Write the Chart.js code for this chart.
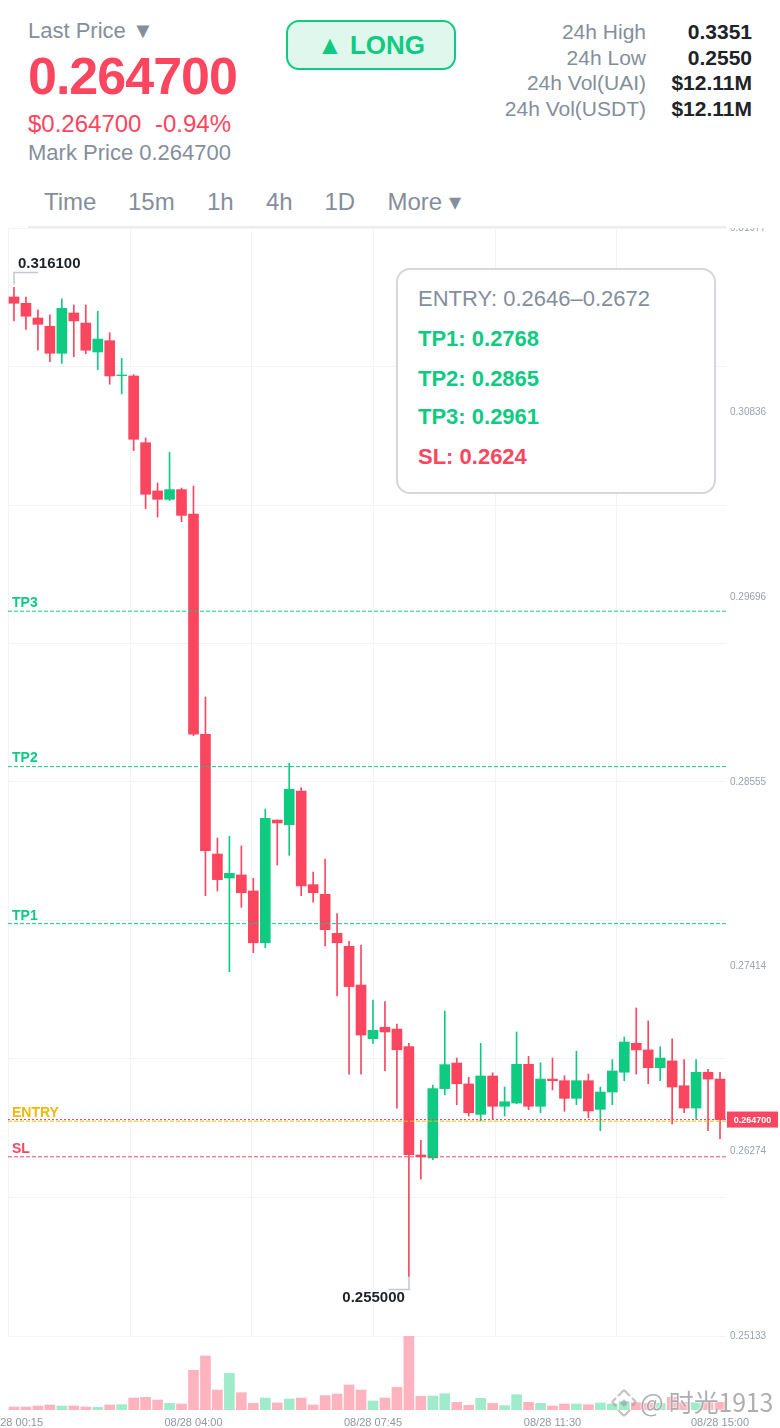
<!DOCTYPE html>
<html lang="en">
<head>
<meta charset="utf-8">
<title>UAI/USDT</title>
<script src="https://cdn.jsdelivr.net/npm/chart.js@4"></script>
<style>
  html,body{margin:0;padding:0;background:#fff;}
  body{width:780px;height:1428px;position:relative;overflow:hidden;font-family:"Liberation Sans",Arial,sans-serif;}
  .t{position:absolute;white-space:nowrap;line-height:1;}
  .gray{color:#848E9C;} .red{color:#FB4660;} .green{color:#0ECB81;} .dark{color:#1E2329;}
  .r{text-align:right;}
  #sep{position:absolute;left:28px;top:226px;width:698px;height:2px;background:#EAECEF;}
  #long{position:absolute;left:286px;top:20px;width:166px;height:46px;border:2px solid #0ECB81;border-radius:13px;background:#E0F7EE;color:#0ECB81;font-weight:bold;font-size:26px;display:flex;align-items:center;justify-content:center;}
  #chartWrap{position:absolute;left:0;top:228px;width:780px;height:1200px;}
  #box{position:absolute;left:396px;top:268px;width:316px;height:222px;border:2px solid #D5D7DC;border-radius:14px;background:#fff;}
  #wm{position:absolute;left:640px;top:1385px;font-family:"Noto Sans CJK SC",sans-serif;font-size:25px;line-height:32px;color:rgba(125,125,125,.62);text-shadow:0 0 2px #fff,0 0 2px #fff;white-space:nowrap;letter-spacing:-.2px;}
  #wmLogo{position:absolute;left:610px;top:1388px;}
</style>
</head>
<body>
<div class="t gray" style="left:28px;top:20px;font-size:22px;">Last Price ▼</div>
<div class="t red" style="left:28px;top:50px;font-size:52px;font-weight:bold;letter-spacing:-1px;">0.264700</div>
<div class="t red" style="left:28px;top:112px;font-size:24px;">$0.264700</div>
<div class="t red" style="left:155px;top:112px;font-size:24px;">-0.94%</div>
<div class="t gray" style="left:28px;top:142px;font-size:22px;">Mark Price 0.264700</div>
<div id="long">▲ LONG</div>

<div class="t gray r" style="right:134px;top:21px;font-size:21px;">24h High</div>
<div class="t dark r" style="right:28px;top:21px;font-size:21px;font-weight:bold;">0.3351</div>
<div class="t gray r" style="right:134px;top:47px;font-size:21px;">24h Low</div>
<div class="t dark r" style="right:28px;top:47px;font-size:21px;font-weight:bold;">0.2550</div>
<div class="t gray r" style="right:134px;top:72px;font-size:21px;">24h Vol(UAI)</div>
<div class="t dark r" style="right:28px;top:72px;font-size:21px;font-weight:bold;">$12.11M</div>
<div class="t gray r" style="right:134px;top:98px;font-size:21px;">24h Vol(USDT)</div>
<div class="t dark r" style="right:28px;top:98px;font-size:21px;font-weight:bold;">$12.11M</div>

<div class="t gray" style="left:44px;top:190px;font-size:24px;">Time</div>
<div class="t gray" style="left:128px;top:190px;font-size:24px;">15m</div>
<div class="t gray" style="left:207px;top:190px;font-size:24px;">1h</div>
<div class="t gray" style="left:266px;top:190px;font-size:24px;">4h</div>
<div class="t gray" style="left:324.5px;top:190px;font-size:24px;">1D</div>
<div class="t gray" style="left:387.5px;top:190px;font-size:24px;">More ▾</div>
<div id="sep"></div>

<div id="chartWrap"><canvas id="chart" width="780" height="1200" style="width:780px;height:1200px;display:block;"></canvas></div>

<div id="box"></div>
<div class="t gray" style="left:418px;top:288px;font-size:22px;">ENTRY: 0.2646–0.2672</div>
<div class="t green" style="left:418px;top:328px;font-size:22px;font-weight:bold;">TP1: 0.2768</div>
<div class="t green" style="left:418px;top:368px;font-size:22px;font-weight:bold;">TP2: 0.2865</div>
<div class="t green" style="left:418px;top:406px;font-size:22px;font-weight:bold;">TP3: 0.2961</div>
<div class="t red" style="left:418px;top:446px;font-size:22px;font-weight:bold;">SL: 0.2624</div>

<svg id="wmLogo" width="28" height="30" viewBox="0 0 28 30">
  <g fill="none" stroke="rgba(150,150,150,.55)" stroke-width="2.4">
    <path d="M14 2 L20 8 M14 2 L8 8"/>
    <path d="M2 14 L6 10 M2 14 L6 18"/>
    <path d="M26 14 L22 10 M26 14 L22 18"/>
    <path d="M14 28 L20 22 M14 28 L8 22"/>
  </g>
  <path d="M14 11 L18 15 L14 19 L10 15 Z" fill="rgba(150,150,150,.55)"/>
</svg>
<div id="wm">@ 时光1913</div>

<script>
const UP = '#0ECB81', DOWN = '#FB4660', UP_VOL = '#A0EBCB', DOWN_VOL = '#FFB3BF';

const opens = [.31551,.31512,.31421,.3137,.31203,.31452,.3139,.31211,.31281,.31065,
  .31063,.30651,.30353,.30301,.30361,.3021,.2885,.2811,.27962,.27981,
  .27882,.27562,.2832,.28291,.28499,.27921,.27861,.2762,.2754,.27301,
  .26969,.2704,.27029,.2692,.26251,.26233,.26661,.26819,.2669,.26502,
  .26739,.26552,.26572,.26811,.26552,.2672,.2671,.26601,.2671,.26533,
  .2664,.26762,.26941,.269,.2679,.26832,.26679,.26541,.26762,.2672];
const closes = [.31512,.31432,.31382,.31203,.31481,.31403,.31222,.31291,.31063,.31069,
  .30672,.30332,.30301,.30361,.30202,.2885,.28131,.27952,.27991,.27871,
  .27562,.28331,.28302,.2851,.27913,.27871,.27643,.27562,.27291,.26992,
  .27021,.27011,.26901,.26253,.26241,.26661,.26809,.26691,.26512,.26739,
  .26552,.2658,.26811,.26552,.2672,.2671,.26601,.2671,.26523,.2664,
  .2677,.26949,.269,.2679,.2685,.26671,.26541,.26762,.2672,.2647];
const highs = [.3161,.31551,.31471,.3144,.3154,.31501,.31501,.31463,.3133,.31172,
  .31071,.3068,.30402,.30592,.30371,.30383,.2908,.28209,.2822,.2816,
  .2796,.28388,.2832,.28671,.2852,.27999,.28079,.27742,.27571,.27548,
  .27208,.27198,.2706,.26941,.26342,.26682,.27141,.2685,.26731,.26941,
  .26759,.26671,.27011,.26861,.26821,.2685,.26741,.26892,.26751,.26671,
  .2684,.2698,.27159,.27079,.2692,.26969,.2684,.2684,.2678,.26762];
const lows = [.31403,.31351,.31222,.31151,.31141,.31182,.31201,.31102,.31012,.30952,
  .30602,.30243,.30192,.30293,.30163,.28841,.27853,.27882,.27383,.27781,
  .27501,.27532,.28042,.28102,.27853,.27812,.27542,.27233,.26751,.26751,
  .26941,.26772,.26541,.255,.26101,.26222,.26622,.26562,.26492,.26461,
  .26472,.26492,.26568,.26531,.26512,.26653,.26521,.26562,.26481,.26401,
  .26562,.2671,.26751,.26691,.2671,.26443,.26512,.26472,.26401,.26352];
const volumes = [4,4,5.4,6.8,5.4,5.4,4,3.6,6.8,7.2,
  16.2,17.1,13.5,9,8.1,53.6,73,27,49.5,23.4,
  9,16.2,9.5,14.9,16.2,6.8,19.4,21.6,33.8,27,
  12.2,16.2,30.6,100,18.5,18.9,22,10.4,6.3,15.8,
  9,5.9,20.7,10.4,9,5.4,8.1,8.1,7.2,9.5,
  8.1,11.3,9.9,9,9,17.1,10.4,9.9,11.7,10.4];

const timeTickIndex = [0,15,30,45,59];
const timeTickLabels = ['08/28 00:15','08/28 04:00','08/28 07:45','08/28 11:30','08/28 15:00'];
const priceTickLabels = [0.25133,0.26274,0.27414,0.28555,0.29696,0.30836,0.31977];
const priceGridLines = [0.25133,0.25989,0.26844,0.277,0.28555,0.29411,0.30266,0.31122,0.31977];
const timeGridLines = [-0.5,9.67,19.83,30,40.17,50.33];

const levelNames = ['TP3','TP2','TP1','ENTRY','SL'];
const levelPrices = [0.2961,0.2865,0.2768,0.2646,0.2624];
const levelColors = ['#0ECB81','#0ECB81','#0ECB81','#F0B90B','#FB4660'];
const lastPrice = 0.2647;
const lastPriceText = '0.264700';
const highText = '0.316100';
const lowText = '0.255000';

const idx = opens.map((_, i) => i);
const isUp = i => closes[i] >= opens[i];
const XMIN = -0.5, XMAX = 59.5;
const GRID = '#F3F4F6';

const levelDatasets = levelPrices.map((p, i) => ({
  type: 'line', yAxisID: 'y', order: 1,
  data: [{x: XMIN, y: p}, {x: XMAX, y: p}],
  borderColor: levelColors[i], borderWidth: 1, borderDash: [4, 2],
  pointRadius: 0, fill: false
}));
levelDatasets.push({
  type: 'line', yAxisID: 'y', order: 1,
  data: [{x: XMIN, y: lastPrice}, {x: XMAX, y: lastPrice}],
  borderColor: '#E8455A', borderWidth: 1, borderDash: [2, 2],
  pointRadius: 0, fill: false
});

const overlay = {
  id: 'overlay',
  beforeDatasetsDraw(c) {
    const ctx = c.ctx, x = c.scales.x, y = c.scales.y;
    ctx.save();
    ctx.strokeStyle = GRID; ctx.lineWidth = 1;
    timeGridLines.forEach(v => {
      const px = Math.round(x.getPixelForValue(v)) + 0.5;
      ctx.beginPath(); ctx.moveTo(px, y.top); ctx.lineTo(px, y.bottom); ctx.stroke();
    });
    ctx.restore();
  },
  afterDatasetsDraw(c) {
    const ctx = c.ctx, x = c.scales.x, y = c.scales.y;
    ctx.save();
    // level names
    ctx.textBaseline = 'middle'; ctx.textAlign = 'left';
    ctx.font = 'bold 14px "Liberation Sans"';
    levelNames.forEach((n, i) => {
      ctx.fillStyle = levelColors[i];
      ctx.fillText(n, x.left + 4, y.getPixelForValue(levelPrices[i]) - 8);
    });
    // highest / lowest leaders
    const iHi = highs.indexOf(Math.max(...highs)), iLo = lows.indexOf(Math.min(...lows));
    const hx = x.getPixelForValue(iHi), hy = y.getPixelForValue(highs[iHi]);
    const lx = x.getPixelForValue(iLo), ly = y.getPixelForValue(lows[iLo]);
    ctx.strokeStyle = '#C4C8CE'; ctx.lineWidth = 1.5;
    ctx.beginPath();
    ctx.moveTo(Math.round(hx), hy - 3); ctx.lineTo(Math.round(hx), hy - 15); ctx.lineTo(hx + 24, hy - 15);
    ctx.stroke();
    ctx.beginPath();
    ctx.moveTo(Math.round(lx), ly); ctx.lineTo(Math.round(lx), ly + 13); ctx.lineTo(lx - 20, ly + 13);
    ctx.stroke();
    ctx.fillStyle = '#1E2329'; ctx.font = 'bold 15px "Liberation Sans"';
    ctx.textAlign = 'left'; ctx.fillText(highText, hx + 4, hy - 24);
    ctx.textAlign = 'right'; ctx.fillText(lowText, lx - 4, ly + 21);
    // last price tag
    const ty = y.getPixelForValue(lastPrice);
    ctx.fillStyle = DOWN;
    ctx.fillRect(x.right + 1, ty - 8, 51, 16);
    ctx.fillStyle = '#fff'; ctx.font = 'bold 9px "Liberation Sans"';
    ctx.textAlign = 'center';
    ctx.fillText(lastPriceText, x.right + 26.5, ty + 0.5);
    ctx.restore();
  }
};

new Chart(document.getElementById('chart'), {
  type: 'bar',
  data: {
    datasets: [
      ...levelDatasets,
      {
        label: 'body', yAxisID: 'y', xAxisID: 'x', order: 2, grouped: false, barThickness: 10,
        data: idx.map(i => ({x: i, y: [opens[i], closes[i]]})),
        backgroundColor: idx.map(i => isUp(i) ? UP : DOWN), borderSkipped: false
      },
      {
        label: 'wick', yAxisID: 'y', xAxisID: 'x', order: 3, grouped: false, barThickness: 1,
        data: idx.map(i => ({x: i, y: [lows[i], highs[i]]})),
        backgroundColor: idx.map(i => isUp(i) ? UP : DOWN), borderSkipped: false
      },
      {
        label: 'volume', yAxisID: 'vol', xAxisID: 'x', order: 4, grouped: false, barThickness: 10,
        data: idx.map(i => ({x: i, y: volumes[i]})),
        backgroundColor: idx.map(i => isUp(i) ? UP_VOL : DOWN_VOL)
      }
    ]
  },
  options: {
    responsive: false, animation: false, devicePixelRatio: 1,
    layout: {padding: {left: 8, right: 0, top: 0, bottom: 0}},
    plugins: {legend: {display: false}, tooltip: {enabled: false}},
    scales: {
      x: {
        type: 'linear', position: 'bottom', min: XMIN, max: XMAX, offset: false,
        grid: {display: false, drawTicks: false, offset: false}, border: {display: false},
        afterBuildTicks: s => { s.ticks = timeTickIndex.map(v => ({value: v})); },
        afterFit: s => { s.height = 18; s.paddingLeft = 0; s.paddingRight = 0; },
        ticks: {
          autoSkip: false, maxRotation: 0, minRotation: 0, padding: 6,
          color: '#8F97A3', font: {family: '"Liberation Sans"', size: 11},
          callback: v => timeTickLabels[timeTickIndex.indexOf(v)] || ''
        }
      },
      y: {
        type: 'linear', position: 'right', stack: 'main', stackWeight: 1108,
        min: 0.25133, max: 0.31977,
        afterBuildTicks: s => {
          const all = [...new Set([...priceTickLabels, ...priceGridLines])].sort((a, b) => a - b);
          s.ticks = all.map(v => ({value: v}));
        },
        afterFit: s => { s.width = 54; s.paddingTop = 0; s.paddingBottom = 0; },
        border: {display: false},
        grid: {
          drawTicks: false,
          color: c => priceGridLines.includes(c.tick.value) ? GRID : 'rgba(0,0,0,0)'
        },
        ticks: {
          autoSkip: false, padding: 4, color: '#9AA2AD',
          font: {family: '"Liberation Sans"', size: 10},
          callback: v => priceTickLabels.includes(v) ? v.toFixed(5) : ''
        }
      },
      vol: {
        type: 'linear', position: 'right', stack: 'main', stackWeight: 74,
        min: 0, max: 100,
        afterFit: s => { s.width = 54; s.paddingTop = 0; s.paddingBottom = 0; },
        border: {display: false},
        grid: {display: false, drawTicks: false},
        ticks: {display: false}
      }
    }
  },
  plugins: [overlay]
});
</script>
</body>
</html>
